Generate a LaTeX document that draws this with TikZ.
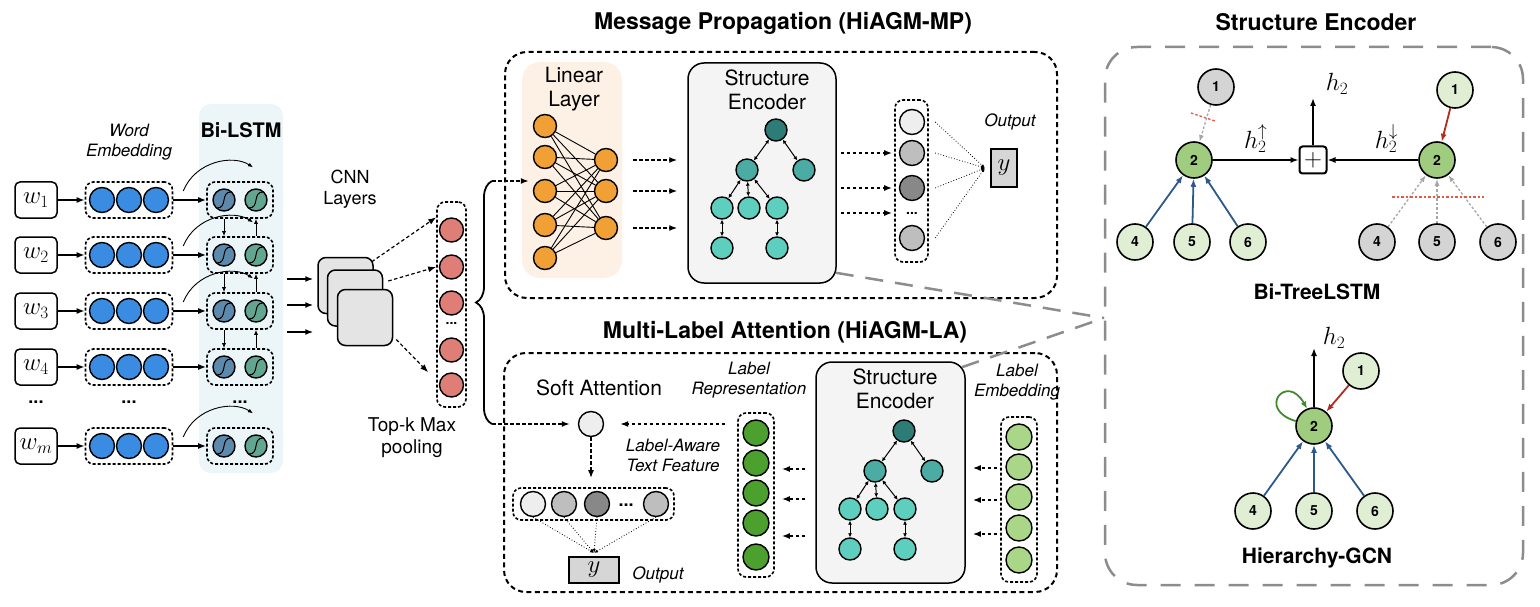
\documentclass[tikz,border=0pt]{standalone}
\usepackage{fontspec}
\setmainfont{TeX Gyre Heros}
\usetikzlibrary{arrows.meta,positioning,decorations.pathreplacing}
\definecolor{wordblue}{RGB}{58,139,226}
\definecolor{lstmblue}{RGB}{92,137,172}
\definecolor{lstmgreen}{RGB}{98,166,146}
\definecolor{lstmbg}{RGB}{236,245,247}
\definecolor{cnngray}{RGB}{228,228,228}
\definecolor{poolred}{RGB}{222,126,118}
\definecolor{linbg}{RGB}{253,241,229}
\definecolor{linorange}{RGB}{240,160,52}
\definecolor{sebg}{RGB}{244,244,244}
\definecolor{troot}{RGB}{46,124,119}
\definecolor{tmid}{RGB}{74,172,162}
\definecolor{tleaf}{RGB}{94,206,190}
\definecolor{outa}{RGB}{238,238,238}
\definecolor{outb}{RGB}{190,190,190}
\definecolor{outc}{RGB}{136,136,136}
\definecolor{ygray}{RGB}{214,214,214}
\definecolor{lrgreen}{RGB}{76,160,46}
\definecolor{legreen}{RGB}{170,214,136}
\definecolor{nodegreen}{RGB}{160,204,128}
\definecolor{nodelight}{RGB}{224,238,212}
\definecolor{nodegray}{RGB}{212,212,212}
\definecolor{edgeblue}{RGB}{44,88,138}
\definecolor{edgered}{RGB}{176,44,30}
\definecolor{loopgreen}{RGB}{64,140,44}
\definecolor{panelgray}{RGB}{140,140,140}
\definecolor{cutred}{RGB}{226,90,70}

\tikzset{
  wbox/.style={draw, line width=1.5pt, rounded corners=5pt, minimum width=42pt, minimum height=36pt, inner sep=0pt, font=\fontsize{25}{25}\selectfont},
  dbox/.style={draw, dash pattern=on 3pt off 2pt, line width=1.6pt, rounded corners=8pt, inner sep=0pt},
  cell/.style={circle, draw, line width=1.4pt, minimum size=25pt, inner sep=0pt},
  tn/.style={cell, minimum size=22pt},
  bignode/.style={circle, draw, line width=1.6pt, minimum size=36pt, inner sep=0pt, font=\fontsize{14}{14}\selectfont\bfseries},
  cnnbox/.style={draw, fill=cnngray, line width=1.5pt, rounded corners=8pt, minimum width=55pt, minimum height=56pt},
  sebox/.style={draw, fill=sebg, line width=1.5pt, rounded corners=16pt},
  ybox/.style={draw, fill=ygray, line width=2pt, inner sep=0pt, font=\fontsize{29}{29}\selectfont},
  panel/.style={draw, dash pattern=on 5pt off 3.5pt, line width=2pt, rounded corners=22pt},
  arr/.style={-{Latex[length=8pt,width=6pt]}, line width=1.5pt},
  thinarr/.style={-{Latex[length=5pt,width=4pt]}, line width=0.9pt},
  darr/.style={arr, dash pattern=on 3.5pt off 2.5pt},
  tarr/.style={{Latex[length=4pt,width=4pt]}-{Latex[length=4pt,width=4pt]}, line width=1pt},
  fine/.style={dotted, line width=0.8pt, -{Latex[length=4pt,width=3pt]}},
  barr/.style={-{Latex[length=8pt,width=6pt]}, line width=1.8pt, draw=edgeblue},
  rarr/.style={-{Latex[length=8pt,width=6pt]}, line width=1.8pt, draw=edgered},
  garr/.style={-{Latex[length=7pt,width=5pt]}, line width=1.3pt, draw=gray!70, dash pattern=on 2.5pt off 2pt},
  redcut/.style={draw=cutred, line width=1.3pt, dash pattern=on 2.5pt off 2pt},
  callout/.style={draw=panelgray, line width=2.5pt, dash pattern=on 18pt off 12pt},
  title/.style={font=\fontsize{23}{26}\selectfont\bfseries},
  subtitle/.style={font=\fontsize{21}{24}\selectfont\bfseries},
  lbl/.style={font=\fontsize{21}{24}\selectfont, align=center},
  ital/.style={font=\fontsize{17}{20}\selectfont\itshape, align=center},
  dots/.style={font=\fontsize{18}{18}\selectfont\bfseries, inner sep=0pt},
  mathlbl/.style={font=\fontsize{27}{27}\selectfont, inner sep=1pt}
}

\begin{document}
\begin{tikzpicture}[x=1pt, y=-1pt]
\useasboundingbox (0,0) rectangle (1540,607);

% word embedding + Bi-LSTM
\node[fill=lstmbg, rounded corners=12pt, minimum width=84pt, minimum height=369pt, inner sep=0pt] (lstmbg) at (241,288.5) {};
\node[font=\fontsize{20}{20}\selectfont\bfseries] (bilstm) at (241,130) {Bi-LSTM};
\node[ital] (wordemb) at (129,142) {Word\\Embedding};

\foreach \i/\y in {1/200,2/255,3/311,4/367,m/446} {
  \node[wbox] (w\i) at (36,\y) {$w_{\i}$};
  \node[dbox, minimum width=87pt, minimum height=36pt] (e\i) at (129,\y) {};
  \foreach \k/\xx in {1/102,2/129,3/156}
    \node[cell, fill=wordblue] (e\i c\k) at (\xx,\y) {};
  \node[dbox, minimum width=66pt, minimum height=36pt] (ls\i) at (240,\y) {};
  \node[cell, minimum size=22pt, fill=lstmblue] (hf\i) at (224,\y) {};
  \node[cell, minimum size=22pt, fill=lstmgreen] (hb\i) at (256,\y) {};
  \draw[line width=1pt] ([shift={(-7,8)}]hf\i.center) .. controls +(11,0) and +(-11,0) .. ([shift={(7,-8)}]hf\i.center);
  \draw[line width=1pt] ([shift={(-7,8)}]hb\i.center) .. controls +(11,0) and +(-11,0) .. ([shift={(7,-8)}]hb\i.center);
  \draw[arr] (w\i) -- (e\i);
  \draw[arr] (e\i) -- (ls\i);
}
\foreach \i in {1,2,3,m}
  \draw[thinarr] ([xshift=10pt,yshift=9pt]e\i.east) .. controls +(12,-30) and +(-20,-13) .. ([xshift=-3pt,yshift=21pt]hb\i.north);
\foreach \a/\b in {1/2,2/3,3/4} {
  \draw[thinarr] (hf\a |- ls\a.south) -- (hf\b |- ls\b.north);
  \draw[thinarr] (hb\b |- ls\b.north) -- (hb\a |- ls\a.south);
}
\node[dots] (wdots) at (36,402) {...};
\node[dots] (edots) at (129,402) {...};
\node[dots] (ldots) at (240,402) {...};

% CNN and pooling
\node[lbl, font=\fontsize{18}{21}\selectfont] (cnntext) at (350,189) {CNN\\Layers};
\node[cnnbox] (cnn1) at (345.5,285.5) {};
\node[cnnbox] (cnn2) at (355,298) {};
\node[cnnbox] (cnn3) at (365,317.5) {};
\foreach \yy in {279,305,332}
  \draw[arr] ([xshift=4pt]lstmbg.east |- 0,\yy) -- ([xshift=-4pt]cnn1.west |- 0,\yy);

\node[dbox, minimum width=29pt, minimum height=205pt] (pool) at (451.5,304.5) {};
\foreach \k/\yy in {1/230,2/267,3/303,4/350,5/385}
  \node[cell, minimum size=24pt, fill=poolred] (p\k) at (451.5,\yy) {};
\node[dots, font=\fontsize{14}{14}\selectfont\bfseries] (pdots) at (451.5,323) {...};
\draw[darr, line width=1.2pt] ([xshift=-2pt,yshift=-5pt]cnn1.north east) -- (pool.west |- p1.north);
\draw[darr, line width=1.2pt] ([xshift=5pt,yshift=17pt]cnn2.east) -- (pool.west |- p2);
\draw[darr, line width=1.2pt] ([xshift=3pt,yshift=-22pt]cnn3.east) -- ([xshift=-8pt]pool.west |- p5.north);
\node[lbl, font=\fontsize{19}{22}\selectfont] (pooltext) at (412,438) {Top-k Max\\pooling};

\coordinate (btop) at (492,181);
\coordinate (bbot) at (492,424);
\draw[decorate, decoration={brace, amplitude=16pt}, line width=1.8pt] (bbot) -- (btop);

% message propagation
\node[title] (mptitle) at (783,23) {Message Propagation (HiAGM-MP)};
\node[panel, minimum width=552pt, minimum height=246pt] (mp) at (781,175) {};
\node[fill=linbg, rounded corners=18pt, minimum width=100pt, minimum height=216pt] (linbg) at (572,170) {};
\node[lbl] (lintext) at (574,89) {Linear\\Layer};
\foreach \k/\yy in {1/126,2/157,3/191,4/225,5/258}
  \node[cell, minimum size=23pt, fill=linorange] (li\k) at (545,\yy) {};
\foreach \k/\yy in {1/160,2/191,3/228}
  \node[cell, minimum size=23pt, fill=linorange] (lo\k) at (606,\yy) {};
\foreach \a in {1,...,5}
  \foreach \b in {1,2,3}
    \draw[line width=0.9pt] (li\a) -- (lo\b);
\draw[darr] (btop) -- ([xshift=-4pt]li3.west |- btop);

\node[sebox, minimum width=148pt, minimum height=220pt] (se1) at (762,173) {};
\node[lbl] (se1text) at (767,90) {Structure\\Encoder};
\foreach \k in {1,2,3}
  \draw[darr] ([xshift=15pt]lo\k.east) -- ([xshift=-10pt]se1.west |- lo\k);

\node[dbox, minimum width=33pt, minimum height=162pt] (ocol) at (911.5,181) {};
\node[cell, fill=outa] (oa) at (912,122) {};
\node[cell, fill=outb] (ob) at (912,153) {};
\node[cell, fill=outc] (oc) at (912,188) {};
\node[cell, fill=outb] (od) at (912,238) {};
\node[dots, font=\fontsize{14}{14}\selectfont\bfseries] (odots) at (912,213) {...};
\foreach \n in {ob,oc,odots}
  \draw[darr] ([xshift=4pt]se1.east |- \n) -- ([xshift=-2pt]ocol.west |- \n);
\node[ybox, minimum width=26pt, minimum height=38pt] (y1) at (1004,168) {$y$};
\node[ital] (out1) at (1010,122) {Output};
\foreach \n in {oa,ob,oc,od}
  \draw[fine] ([xshift=10pt]\n.east) -- ([xshift=-5pt]y1.west);

% multi-label attention
\node[title] (latitle) at (785,332) {Multi-Label Attention (HiAGM-LA)};
\node[panel, minimum width=553pt, minimum height=239pt] (la) at (780.5,472.5) {};
\node[lbl] (satext) at (599,388) {Soft Attention};
\node[cell, fill=outa] (sa) at (591,424) {};
\draw[darr] (bbot) -- ([xshift=-8pt]sa.west);
\node[dbox, minimum width=161pt, minimum height=32pt] (orow) at (593.5,504) {};
\node[cell, fill=outa] (ra) at (533,504) {};
\node[cell, fill=outb] (rb) at (564,504) {};
\node[cell, fill=outc] (rc) at (597,504) {};
\node[cell, fill=outb] (rd) at (656,504) {};
\node[dots] (rdots) at (626,505) {...};
\draw[darr] (sa) -- ([yshift=9pt]orow.north -| sa);
\node[ybox, minimum width=50pt, minimum height=26pt] (y2) at (594,570) {$y$};
\node[ital] (out2) at (658,575) {Output};
\foreach \n in {ra,rb,rc,rd}
  \draw[fine] (\n.south) -- ([yshift=3pt]y2.north);
\node[ital] (latf) at (673,455) {Label-Aware\\Text Feature};

\node[ital] (lrtext) at (749,380) {Label\\Representation};
\node[dbox, minimum width=36pt, minimum height=164pt] (lr) at (756,495) {};
\foreach \k/\yy in {1/433,2/463,3/493,4/523,5/557}
  \node[cell, minimum size=26pt, fill=lrgreen] (lg\k) at (756,\yy) {};
\draw[darr] ([xshift=-12pt]lr.west |- sa) -- ([xshift=16pt]sa.east);

\node[sebox, minimum width=149pt, minimum height=221pt] (se2) at (890.5,472.5) {};
\node[lbl] (se2text) at (895,389) {Structure\\Encoder};
\foreach \yy in {469,499,536}
  \draw[darr] ([xshift=-10pt]se2.west |- 0,\yy) -- ([xshift=7pt]lr.east |- 0,\yy);

\node[ital] (letext) at (1017,382) {Label\\Embedding};
\node[dbox, minimum width=36pt, minimum height=165pt] (le) at (1019,499.5) {};
\foreach \k/\yy in {1/437,2/467,3/497,4/528,5/560}
  \node[cell, minimum size=26pt, fill=legreen] (eg\k) at (1019,\yy) {};
\foreach \yy in {468,500,534}
  \draw[darr] ([xshift=-3pt]le.west |- 0,\yy) -- ([xshift=7pt]se2.east |- 0,\yy);

% small hierarchy trees
\foreach \t/\ox/\oy in {1/0/0,2/128/301} {
  \node[tn, fill=troot] (r\t) at (776+\ox,130+\oy) {};
  \node[tn, fill=tmid] (ma\t) at (747+\ox,170+\oy) {};
  \node[tn, fill=tmid] (mb\t) at (804+\ox,170+\oy) {};
  \node[tn, fill=tleaf] (ka\t) at (722+\ox,208+\oy) {};
  \node[tn, fill=tleaf] (kb\t) at (749+\ox,208+\oy) {};
  \node[tn, fill=tleaf] (kc\t) at (777+\ox,208+\oy) {};
  \node[tn, fill=tleaf] (ba\t) at (722+\ox,248+\oy) {};
  \node[tn, fill=tleaf] (bb\t) at (777+\ox,248+\oy) {};
  \draw[tarr] (r\t) -- (ma\t);
  \draw[tarr] (r\t) -- (mb\t);
  \draw[tarr] (ma\t) -- (ka\t);
  \draw[tarr] (ma\t) -- (kb\t);
  \draw[tarr] (ma\t) -- (kc\t);
  \draw[tarr] (ka\t) -- (ba\t);
  \draw[tarr] (kc\t) -- (bb\t);
}

% structure encoder
\node[title] (setitle) at (1316,22) {Structure Encoder};
\node[draw=panelgray, line width=2.5pt, dash pattern=on 20pt off 14pt, rounded corners=32pt, minimum width=418pt, minimum height=538pt] (sepanel) at (1314,316) {};
\coordinate (sejoin) at (1104,318);
\draw[callout] ([xshift=-1pt,yshift=11pt]se1.south east) -- (sejoin);
\draw[callout] ([xshift=-4pt,yshift=-6pt]se2.north east) -- (sejoin);

\node[bignode, fill=nodegray] (u1) at (1216,87) {1};
\node[bignode, fill=nodegreen] (u2) at (1194,160) {2};
\node[bignode, fill=nodelight] (u4) at (1135,242) {4};
\node[bignode, fill=nodelight] (u5) at (1192,242) {5};
\node[bignode, fill=nodelight] (u6) at (1248,242) {6};
\draw[garr] (u1) -- (u2);
\coordinate (ucut) at (1203,117);
\draw[redcut] ([shift={(-12,-4)}]ucut) -- ([shift={(12,4)}]ucut);
\foreach \n in {u4,u5,u6}
  \draw[barr] (\n) -- (u2);

\node[draw, line width=2pt, rounded corners=3pt, minimum size=27pt, inner sep=0pt, font=\fontsize{28}{28}\selectfont] (plus) at (1313,160) {$+$};
\coordinate (htop) at (1313,98);
\draw[arr] (plus) -- (htop);
\node[mathlbl] (h2a) at (1337,84) {$h_2$};

\node[bignode, fill=nodelight] (v1) at (1455,90) {1};
\node[bignode, fill=nodegreen] (v2) at (1437,160) {2};
\node[bignode, fill=nodegray] (v4) at (1377,242) {4};
\node[bignode, fill=nodegray] (v5) at (1437,242) {5};
\node[bignode, fill=nodegray] (v6) at (1498,242) {6};
\draw[rarr] (v1) -- (v2);
\foreach \n in {v4,v5,v6}
  \draw[garr] (\n) -- (v2);
\coordinate (vcut) at (1438,197);
\draw[redcut] ([xshift=-46pt]vcut) -- ([xshift=46pt]vcut);

\draw[arr] (u2) -- (plus) node[midway, above=3pt, font=\fontsize{24}{24}\selectfont] (hup) {$h_2^{\uparrow}$};
\draw[arr] (v2) -- (plus) node[pos=0.35, above=3pt, font=\fontsize{24}{24}\selectfont] (hdown) {$h_2^{\downarrow}$};
\node[subtitle] (bitree) at (1317,292) {Bi-TreeLSTM};

\node[bignode, fill=nodelight] (c1) at (1361,371) {1};
\node[bignode, fill=nodegreen] (c2) at (1314,426) {2};
\node[bignode, fill=nodelight] (c4) at (1253,511) {4};
\node[bignode, fill=nodelight] (c5) at (1314,511) {5};
\node[bignode, fill=nodelight] (c6) at (1375,511) {6};
\coordinate (gtop) at (1314,348);
\draw[arr] (c2) -- (gtop);
\node[mathlbl] (h2b) at (1334,338) {$h_2$};
\draw[rarr] (c1) -- (c2);
\foreach \n in {c4,c5,c6}
  \draw[barr] (\n) -- (c2);
\draw[-{Latex[length=7pt,width=6pt]}, line width=1.8pt, draw=loopgreen] (c2.165) .. controls +(-40,-12) and +(-20,-36) .. (c2.112);
\node[subtitle] (gcn) at (1317,558) {Hierarchy-GCN};
\end{tikzpicture}
\end{document}
